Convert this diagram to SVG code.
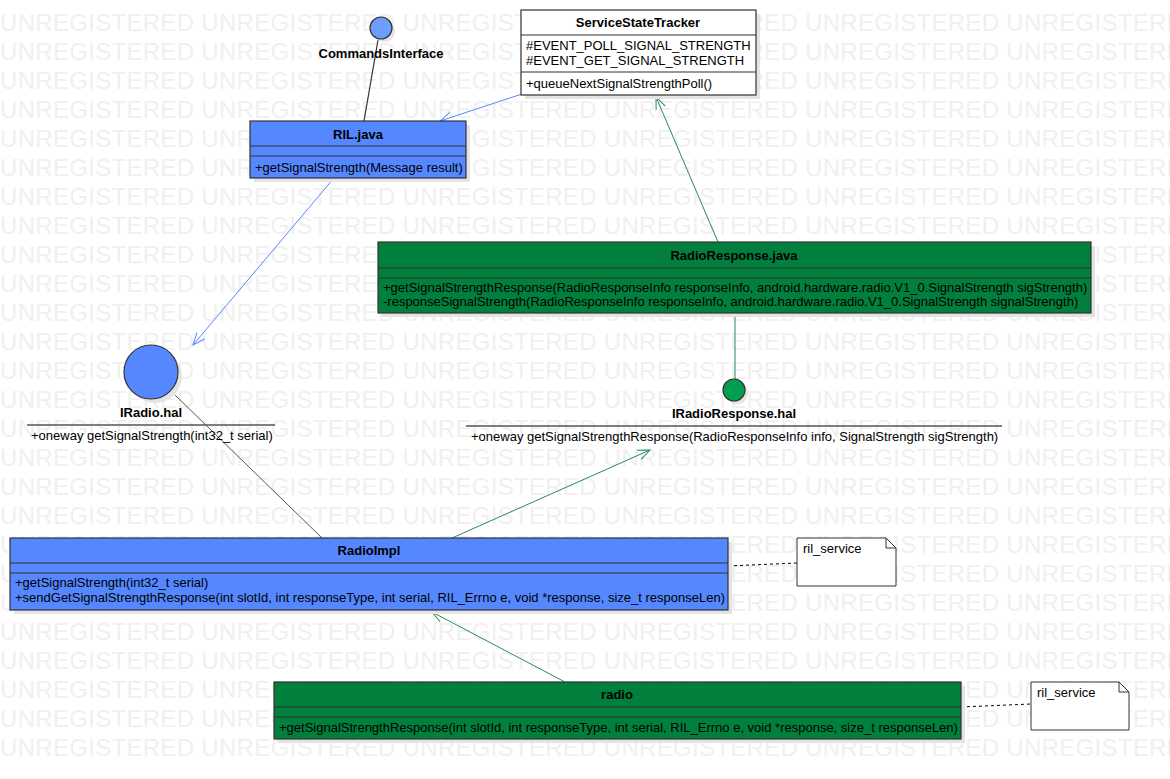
<svg xmlns="http://www.w3.org/2000/svg" width="1170" height="779" viewBox="0 0 1170 779">
<style>
text{font-family:"Liberation Sans",Arial,sans-serif;font-size:13px;fill:#000}
.wm{font-size:24px;fill:#f0f0f0;letter-spacing:0.3px}
.b{font-weight:bold;font-size:13px}
.box{stroke:#333;stroke-width:1.2}
.sh{fill:#e4e4e4}
.bl{fill:#5588ff}
.gr{fill:#007f3d}
.ln{stroke:#333;stroke-width:1.2}
</style>
<defs>
<marker id="ab" markerWidth="14" markerHeight="12" refX="13" refY="6" orient="auto" markerUnits="userSpaceOnUse"><path d="M1,1 L13,6 L1,11" fill="none" stroke="#5588ff" stroke-width="1"/></marker>
<marker id="ag" markerWidth="14" markerHeight="12" refX="13" refY="6" orient="auto" markerUnits="userSpaceOnUse"><path d="M1,1 L13,6 L1,11" fill="none" stroke="#2a8a5a" stroke-width="1"/></marker>
</defs>
<rect width="1170" height="779" fill="#fff"/>
<g id="watermark">
<text class="wm" x="0" y="31">UNREGISTERED UNREGISTERED UNREGISTERED UNREGISTERED UNREGISTERED UNREGISTERED</text>
<text class="wm" x="0" y="60">UNREGISTERED UNREGISTERED UNREGISTERED UNREGISTERED UNREGISTERED UNREGISTERED</text>
<text class="wm" x="0" y="89">UNREGISTERED UNREGISTERED UNREGISTERED UNREGISTERED UNREGISTERED UNREGISTERED</text>
<text class="wm" x="0" y="118">UNREGISTERED UNREGISTERED UNREGISTERED UNREGISTERED UNREGISTERED UNREGISTERED</text>
<text class="wm" x="0" y="147">UNREGISTERED UNREGISTERED UNREGISTERED UNREGISTERED UNREGISTERED UNREGISTERED</text>
<text class="wm" x="0" y="176">UNREGISTERED UNREGISTERED UNREGISTERED UNREGISTERED UNREGISTERED UNREGISTERED</text>
<text class="wm" x="0" y="205">UNREGISTERED UNREGISTERED UNREGISTERED UNREGISTERED UNREGISTERED UNREGISTERED</text>
<text class="wm" x="0" y="234">UNREGISTERED UNREGISTERED UNREGISTERED UNREGISTERED UNREGISTERED UNREGISTERED</text>
<text class="wm" x="0" y="263">UNREGISTERED UNREGISTERED UNREGISTERED UNREGISTERED UNREGISTERED UNREGISTERED</text>
<text class="wm" x="0" y="292">UNREGISTERED UNREGISTERED UNREGISTERED UNREGISTERED UNREGISTERED UNREGISTERED</text>
<text class="wm" x="0" y="321">UNREGISTERED UNREGISTERED UNREGISTERED UNREGISTERED UNREGISTERED UNREGISTERED</text>
<text class="wm" x="0" y="350">UNREGISTERED UNREGISTERED UNREGISTERED UNREGISTERED UNREGISTERED UNREGISTERED</text>
<text class="wm" x="0" y="379">UNREGISTERED UNREGISTERED UNREGISTERED UNREGISTERED UNREGISTERED UNREGISTERED</text>
<text class="wm" x="0" y="408">UNREGISTERED UNREGISTERED UNREGISTERED UNREGISTERED UNREGISTERED UNREGISTERED</text>
<text class="wm" x="0" y="437">UNREGISTERED UNREGISTERED UNREGISTERED UNREGISTERED UNREGISTERED UNREGISTERED</text>
<text class="wm" x="0" y="466">UNREGISTERED UNREGISTERED UNREGISTERED UNREGISTERED UNREGISTERED UNREGISTERED</text>
<text class="wm" x="0" y="495">UNREGISTERED UNREGISTERED UNREGISTERED UNREGISTERED UNREGISTERED UNREGISTERED</text>
<text class="wm" x="0" y="524">UNREGISTERED UNREGISTERED UNREGISTERED UNREGISTERED UNREGISTERED UNREGISTERED</text>
<text class="wm" x="0" y="553">UNREGISTERED UNREGISTERED UNREGISTERED UNREGISTERED UNREGISTERED UNREGISTERED</text>
<text class="wm" x="0" y="582">UNREGISTERED UNREGISTERED UNREGISTERED UNREGISTERED UNREGISTERED UNREGISTERED</text>
<text class="wm" x="0" y="611">UNREGISTERED UNREGISTERED UNREGISTERED UNREGISTERED UNREGISTERED UNREGISTERED</text>
<text class="wm" x="0" y="640">UNREGISTERED UNREGISTERED UNREGISTERED UNREGISTERED UNREGISTERED UNREGISTERED</text>
<text class="wm" x="0" y="669">UNREGISTERED UNREGISTERED UNREGISTERED UNREGISTERED UNREGISTERED UNREGISTERED</text>
<text class="wm" x="0" y="698">UNREGISTERED UNREGISTERED UNREGISTERED UNREGISTERED UNREGISTERED UNREGISTERED</text>
<text class="wm" x="0" y="727">UNREGISTERED UNREGISTERED UNREGISTERED UNREGISTERED UNREGISTERED UNREGISTERED</text>
<text class="wm" x="0" y="756">UNREGISTERED UNREGISTERED UNREGISTERED UNREGISTERED UNREGISTERED UNREGISTERED</text>
</g>
<g id="connectors" fill="none">
<line x1="378" y1="40" x2="364" y2="121" class="ln"/>
<line x1="525" y1="93" x2="440" y2="121" stroke="#5588ff" marker-end="url(#ab)"/>
<line x1="334" y1="178" x2="193" y2="345" stroke="#5588ff" marker-end="url(#ab)"/>
<line x1="718" y1="242" x2="656" y2="97" stroke="#2a8a5a" marker-end="url(#ag)"/>
<line x1="735" y1="313" x2="735" y2="379" stroke="#2a8a5a"/>
<line x1="175" y1="395" x2="322" y2="538" stroke="#555"/>
<line x1="452" y1="538" x2="650" y2="450" stroke="#2a8a5a" marker-end="url(#ag)"/>
<line x1="565" y1="682" x2="432" y2="612" stroke="#2a8a5a" marker-end="url(#ag)"/>
<line x1="728" y1="566" x2="797" y2="563" stroke="#000" stroke-dasharray="3,3"/>
<line x1="961" y1="707" x2="1031" y2="704" stroke="#000" stroke-dasharray="3,3"/>
</g>
<g id="CommandsInterface">
<circle cx="384" cy="31" r="11" class="sh"/>
<circle cx="381" cy="28" r="11" fill="#6e9cff" class="box"/>
<text class="b" x="381" y="58" text-anchor="middle">CommandsInterface</text>
</g>
<g id="ServiceStateTracker">
<rect x="525" y="14" width="235" height="85" class="sh"/>
<rect x="521" y="10" width="235" height="85" fill="#fff" class="box"/>
<line x1="521" y1="35" x2="756" y2="35" class="box"/>
<line x1="521" y1="72" x2="756" y2="72" class="box"/>
<text class="b" x="638" y="27" text-anchor="middle">ServiceStateTracker</text>
<text x="526" y="50">#EVENT_POLL_SIGNAL_STRENGTH</text>
<text x="526" y="65">#EVENT_GET_SIGNAL_STRENGTH</text>
<text x="526" y="88">+queueNextSignalStrengthPoll()</text>
</g>
<g id="RIL">
<rect x="254" y="125" width="216" height="57" class="sh"/>
<rect x="250" y="121" width="216" height="57" class="bl box"/>
<line x1="250" y1="146" x2="466" y2="146" class="box"/>
<line x1="250" y1="156" x2="466" y2="156" class="box"/>
<text class="b" x="358" y="139" text-anchor="middle">RIL.java</text>
<text x="255" y="172">+getSignalStrength(Message result)</text>
</g>
<g id="RadioResponse">
<rect x="382" y="246" width="713" height="71" class="sh"/>
<rect x="378" y="242" width="713" height="71" class="gr box"/>
<line x1="378" y1="268" x2="1091" y2="268" class="box"/>
<line x1="378" y1="278" x2="1091" y2="278" class="box"/>
<text class="b" x="734" y="260" text-anchor="middle">RadioResponse.java</text>
<text x="383" y="292">+getSignalStrengthResponse(RadioResponseInfo responseInfo, android.hardware.radio.V1_0.SignalStrength sigStrength)</text>
<text x="383" y="306">-responseSignalStrength(RadioResponseInfo responseInfo, android.hardware.radio.V1_0.SignalStrength signalStrength)</text>
</g>
<g id="IRadio">
<circle cx="155" cy="376" r="27" class="sh"/>
<circle cx="151" cy="372" r="27" fill="#5588ff" class="box"/>
<text class="b" x="151" y="417" text-anchor="middle">IRadio.hal</text>
<line x1="27" y1="425" x2="275" y2="425" stroke="#555" stroke-width="1.5"/>
<text x="31" y="440">+oneway getSignalStrength(int32_t serial)</text>
</g>
<g id="IRadioResponse">
<circle cx="737" cy="393" r="11" class="sh"/>
<circle cx="734" cy="390" r="11" fill="#00a050" class="box"/>
<text class="b" x="734" y="418" text-anchor="middle">IRadioResponse.hal</text>
<line x1="466" y1="426" x2="1002" y2="426" stroke="#555" stroke-width="1.5"/>
<text x="471" y="441">+oneway getSignalStrengthResponse(RadioResponseInfo info, SignalStrength sigStrength)</text>
</g>
<g id="RadioImpl">
<rect x="14" y="542" width="718" height="72" class="sh"/>
<rect x="10" y="538" width="718" height="72" class="bl box"/>
<line x1="10" y1="563" x2="728" y2="563" class="box"/>
<line x1="10" y1="573" x2="728" y2="573" class="box"/>
<text class="b" x="369" y="555" text-anchor="middle">RadioImpl</text>
<text x="15" y="587">+getSignalStrength(int32_t serial)</text>
<text x="15" y="602">+sendGetSignalStrengthResponse(int slotId, int responseType, int serial, RIL_Errno e, void *response, size_t responseLen)</text>
</g>
<g id="note1">
<path d="M797,538 H886 L896,548 V586 H797 Z" fill="#fff" stroke="#333"/>
<path d="M886,538 V548 H896" fill="none" stroke="#333"/>
<text x="803" y="553">ril_service</text>
</g>
<g id="radio">
<rect x="278" y="686" width="687" height="57" class="sh"/>
<rect x="274" y="682" width="687" height="57" class="gr box"/>
<line x1="274" y1="707" x2="961" y2="707" class="box"/>
<line x1="274" y1="717" x2="961" y2="717" class="box"/>
<text class="b" x="617" y="699" text-anchor="middle">radio</text>
<text x="279" y="732">+getSignalStrengthResponse(int slotId, int responseType, int serial, RIL_Errno e, void *response, size_t responseLen)</text>
</g>
<g id="note2">
<path d="M1031,682 H1119 L1129,692 V730 H1031 Z" fill="#fff" stroke="#333"/>
<path d="M1119,682 V692 H1129" fill="none" stroke="#333"/>
<text x="1037" y="697">ril_service</text>
</g>
</svg>
